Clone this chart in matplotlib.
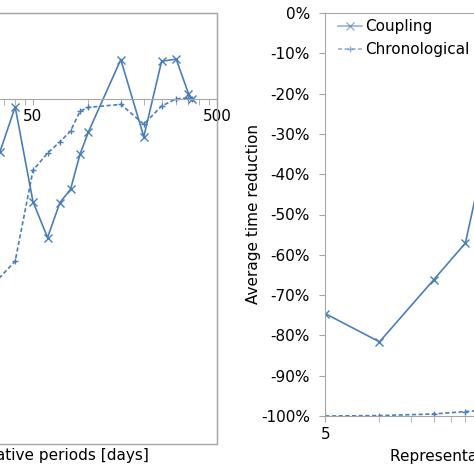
import matplotlib
matplotlib.use('Agg')
import matplotlib.pyplot as plt
from matplotlib.ticker import FixedLocator, FuncFormatter, NullFormatter
from matplotlib.lines import Line2D

# Left panel (values in %)
left_days = [30, 33, 40, 50, 60, 70, 80, 90, 100, 150, 200, 250, 300, 350, 365]
left_coupling = [-8.0, -12.3, -1.8, -23.8, -32.1, -24.0, -20.9, -12.8, -7.6, 9.2, -8.7, 8.8, 9.3, 1.3, 0.1]
left_chrono_days = [30, 40, 50, 60, 70, 80, 90, 100, 150, 200, 250, 300, 350, 365]
left_chrono = [-43.2, -37.6, -16.5, -12.5, -9.9, -7.4, -2.8, -1.9, -1.2, -5.8, -1.6, 0.1, 0.3, 0.1]

# Right panel (values in %)
right_days = [5, 10, 20, 30, 40]
right_coupling = [-74.6, -81.6, -66.2, -57.1, -31.7]
right_chrono = [-100.0, -99.9, -99.5, -98.9, -98.5]

blue = '#4a7ebb'
gray = '#a6a6a6'
fs = 11

major = [5, 50, 500]
minor = [5 * k for k in range(2, 10)] + [50 * k for k in range(2, 10)]

fig = plt.figure(figsize=(4.74, 4.74), dpi=100)

# ---- left panel ----
ax1 = fig.add_axes([-151 / 474, 30 / 474, 368 / 474, 431 / 474])
ax1.plot(left_days, left_coupling, color=blue, lw=1.2, marker='x', ms=6, mew=1.0)
ax1.plot(left_chrono_days, left_chrono, color=blue, lw=1.2, ls=(0, (2.5, 1.5)),
         marker='+', ms=5, mew=1.0)
ax1.set_xscale('log')
ax1.set_xlim(5, 500)
ax1.set_ylim(-80, 20)
ax1.xaxis.set_major_locator(FixedLocator(major))
ax1.xaxis.set_minor_locator(FixedLocator(minor))
ax1.xaxis.set_major_formatter(FuncFormatter(lambda v, p: '%d' % v))
ax1.xaxis.set_minor_formatter(NullFormatter())
ax1.spines['bottom'].set_position(('data', 0))
for s in ax1.spines.values():
    s.set_color(gray)
ax1.patch.set_edgecolor(gray)
ax1.patch.set_linewidth(1.0)
ax1.tick_params(axis='x', which='both', direction='out', colors=gray,
                labelcolor='black', labelsize=fs, length=4, pad=3)
ax1.tick_params(axis='y', colors=gray, labelcolor='black', labelsize=fs)
ax1.set_xlabel('Representative periods [days]', fontsize=fs)
ax1.xaxis.set_label_coords(0.5, -0.009, transform=ax1.transAxes)
ax1.xaxis.label.set_va('top')

# ---- right panel ----
ax2 = fig.add_axes([325.3 / 474, 58 / 474, 360 / 474, 403 / 474])
ax2.plot(right_days, right_coupling, color=blue, lw=1.2, marker='x', ms=6, mew=1.0)
ax2.plot(right_days, right_chrono, color=blue, lw=1.2, ls=(0, (2.5, 1.5)),
         marker='+', ms=5, mew=1.0)
ax2.set_xscale('log')
ax2.set_xlim(5, 500)
ax2.set_ylim(-100, 0)
ax2.set_yticks(range(-100, 1, 10))
ax2.yaxis.set_major_formatter(FuncFormatter(lambda v, p: '%d%%' % round(v)))
ax2.xaxis.set_major_locator(FixedLocator(major))
ax2.xaxis.set_minor_locator(FixedLocator(minor))
ax2.xaxis.set_major_formatter(FuncFormatter(lambda v, p: '%d' % v))
ax2.xaxis.set_minor_formatter(NullFormatter())
for s in ax2.spines.values():
    s.set_color(gray)
ax2.tick_params(which='both', direction='out', colors=gray, labelcolor='black',
                labelsize=fs, length=4)
ax2.tick_params(axis='y', pad=7)
ax2.tick_params(axis='x', pad=4)
ax2.set_ylabel('Average time reduction', fontsize=fs)
ax2.yaxis.set_label_coords(-0.179, 0.5)
ax2.set_xlabel('Representative periods [days]', fontsize=fs)
ax2.xaxis.set_label_coords(0.5, -0.081)
ax2.xaxis.label.set_va('top')

handles = [
    Line2D([], [], color=blue, lw=1.2, marker='x', ms=6, alpha=0.6),
    Line2D([], [], color=blue, lw=1.2, ls=(0, (2.5, 1.5)), marker='+', ms=5, alpha=0.6),
]
ax2.legend(handles, ['Coupling', 'Chronological'], loc='upper left',
           bbox_to_anchor=(0.035, 0.985), frameon=False, fontsize=fs,
           borderpad=0, borderaxespad=0, handlelength=1.6, handletextpad=0.15,
           labelspacing=0.55)

fig.savefig('out.png', dpi=100)
